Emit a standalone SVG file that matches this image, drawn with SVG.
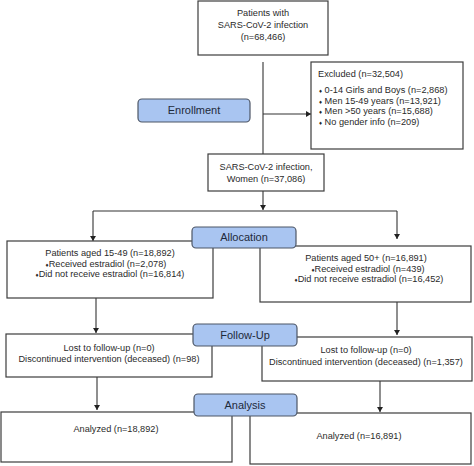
<svg xmlns="http://www.w3.org/2000/svg" width="474" height="466" viewBox="0 0 474 466">
<defs>
<style>
.box{fill:#fff;stroke:#3c3c3c;stroke-width:1.2}
.lab{fill:#a9c5f1;stroke:#4d5666;stroke-width:1.2}
.t{font-family:"Liberation Sans",Arial,sans-serif;font-size:9.2px;fill:#2a2a2a}
.c{text-anchor:middle}
.lt{font-family:"Liberation Sans",Arial,sans-serif;font-size:11px;fill:#1e2a3a;text-anchor:middle}
.b{font-size:6px}
.ln{stroke:#333;stroke-width:1.1;fill:none}
</style>
<marker id="ah" markerWidth="6" markerHeight="6" refX="5" refY="3" orient="auto" markerUnits="userSpaceOnUse">
<path d="M0,0 L5,3 L0,6 z" fill="#222"/>
</marker>
</defs>
<rect width="474" height="466" fill="#fff"/>

<g id="connectors">
<path class="ln" d="M263,62 V154"/>
<path class="ln" d="M263,114 H311" marker-end="url(#ah)"/>
<path class="ln" d="M263,191 V210" marker-end="url(#ah)"/>
<path class="ln" d="M93,211 H397"/>
<path class="ln" d="M93,211 V241" marker-end="url(#ah)"/>
<path class="ln" d="M397,211 V239" marker-end="url(#ah)"/>
<path class="ln" d="M96,298 V333" marker-end="url(#ah)"/>
<path class="ln" d="M397,302 V335" marker-end="url(#ah)"/>
<path class="ln" d="M97,377 V410" marker-end="url(#ah)"/>
<path class="ln" d="M380,381 V412" marker-end="url(#ah)"/>
</g>

<g id="patients">
<rect class="box" x="198" y="1" width="130" height="54"/>
<text class="t c" x="263" y="16">Patients with</text>
<text class="t c" x="263" y="28">SARS-CoV-2 infection</text>
<text class="t c" x="263" y="40">(n=68,466)</text>
</g>

<g id="excluded">
<rect class="box" x="311" y="62" width="152" height="87"/>
<text class="t" x="318" y="77">Excluded (n=32,504)</text>
<text class="t" x="319" y="93"><tspan class="b">♦</tspan> 0-14 Girls and Boys (n=2,868)</text>
<text class="t" x="319" y="103.5"><tspan class="b">♦</tspan> Men 15-49 years (n=13,921)</text>
<text class="t" x="319" y="114"><tspan class="b">♦</tspan> Men &gt;50 years (n=15,688)</text>
<text class="t" x="319" y="124.5"><tspan class="b">♦</tspan> No gender info (n=209)</text>
</g>

<g id="women">
<rect class="box" x="208" y="154" width="116" height="37"/>
<text class="t c" x="266" y="170">SARS-CoV-2 infection,</text>
<text class="t c" x="266" y="182">Women (n=37,086)</text>
</g>

<g id="aged1549">
<rect class="box" x="7" y="241" width="206" height="57"/>
<text class="t c" x="110" y="256">Patients aged 15-49 (n=18,892)</text>
<text class="t c" x="106" y="266.5"><tspan class="b">♦</tspan>Received estradiol (n=2,078)</text>
<text class="t c" x="110" y="277"><tspan class="b">♦</tspan>Did not receive estradiol (n=16,814)</text>
</g>

<g id="aged50">
<rect class="box" x="260" y="246" width="211" height="56"/>
<text class="t c" x="366" y="261">Patients aged 50+ (n=16,891)</text>
<text class="t c" x="368" y="271.5"><tspan class="b">♦</tspan>Received estradiol (n=439)</text>
<text class="t c" x="369" y="282"><tspan class="b">♦</tspan>Did not receive estradiol (n=16,452)</text>
</g>

<g id="followup1">
<rect class="box" x="6" y="334" width="206" height="43"/>
<text class="t c" x="109" y="351">Lost to follow-up (n=0)</text>
<text class="t c" x="109" y="361.5">Discontinued intervention (deceased) (n=98)</text>
</g>

<g id="followup2">
<rect class="box" x="262" y="337" width="210" height="44"/>
<text class="t c" x="366" y="353">Lost to follow-up (n=0)</text>
<text class="t c" x="366" y="365">Discontinued intervention (deceased) (n=1,357)</text>
</g>

<g id="analyzed1">
<rect class="box" x="1" y="412" width="231" height="50"/>
<text class="t c" x="116" y="432">Analyzed (n=18,892)</text>
</g>

<g id="analyzed2">
<rect class="box" x="250" y="413" width="221" height="51"/>
<text class="t c" x="359" y="439">Analyzed (n=16,891)</text>
</g>

<g id="enrollment">
<rect class="lab" x="138" y="99" width="112" height="23" rx="4"/>
<text class="lt" x="194" y="114">Enrollment</text>
</g>

<g id="allocation">
<rect class="lab" x="192" y="227" width="104" height="21" rx="4"/>
<text class="lt" x="244" y="241">Allocation</text>
</g>

<g id="followup">
<rect class="lab" x="193" y="324" width="104" height="22" rx="4"/>
<text class="lt" x="245" y="339">Follow-Up</text>
</g>

<g id="analysis">
<rect class="lab" x="194" y="394" width="103" height="22" rx="4"/>
<text class="lt" x="245" y="409">Analysis</text>
</g>
</svg>
